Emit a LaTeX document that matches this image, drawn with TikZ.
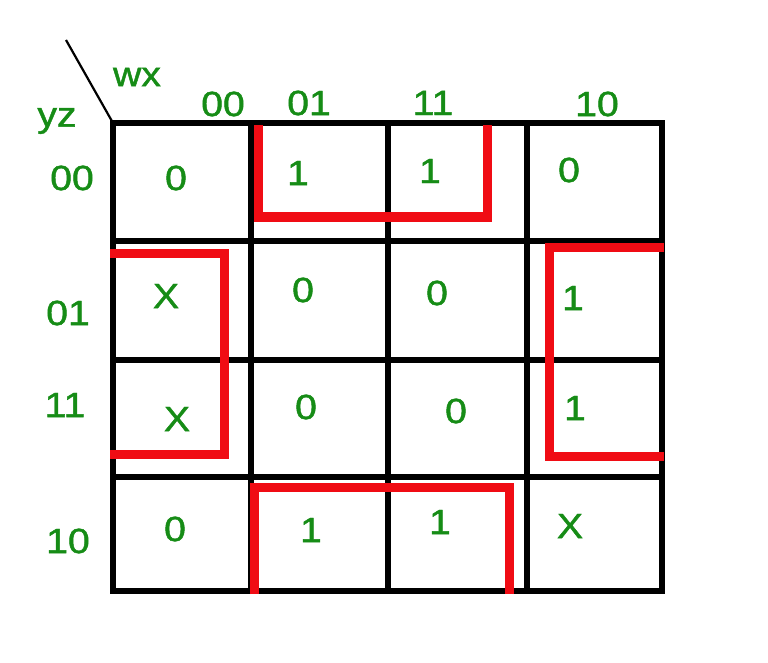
\documentclass[tikz,border=0pt]{standalone}
\usepackage{fontspec}
\setmainfont{Liberation Sans}
\newfontfamily\kmapfont[FakeBold=1.2]{Liberation Sans}
\definecolor{kgreen}{RGB}{22,140,22}
\definecolor{kred}{RGB}{240,12,20}
\begin{document}
\begin{tikzpicture}[x=1pt,y=-1pt,
  lbl/.style={text=kgreen,font=\kmapfont\fontsize{35}{35}\selectfont,inner sep=0pt,xscale=1.12},
  gridline/.style={line width=5.5pt,black,line cap=rect},
  grp/.style={line width=9pt,kred,line join=miter}]
\useasboundingbox (0,0) rectangle (768,663);
% grid
\foreach \x in {113,251,388,527,662} \draw[gridline] (\x,123) -- (\x,591);
\foreach \y in {123,241,360,477,591} \draw[gridline] (113,\y) -- (662,\y);
% diagonal
\coordinate (corner) at (113,123);
\coordinate (dtop) at (66,40);
\draw[line width=2.2pt] (dtop) -- (corner);
% red groups
\draw[grp] (258,125) -- (258,217) -- (487,217) -- (487,125);
\draw[grp] (110,253) -- (224,253) -- (224,454) -- (110,454);
\draw[grp] (664,247) -- (549,247) -- (549,456) -- (664,456);
\draw[grp] (254,594) -- (254,487) -- (509,487) -- (509,594);
% axis labels
\node[lbl] (wx) at (137,77) {wx};
\node[lbl] (yz) at (57,121) {yz};
\node[lbl] (c00) at (223,104) {00};
\node[lbl] (c01) at (309,103) {01};
\node[lbl] (c11) at (433,103) {11};
\node[lbl] (c10) at (597,104) {10};
\node[lbl] (r00) at (72,178) {00};
\node[lbl] (r01) at (68,313) {01};
\node[lbl] (r11) at (65,405) {11};
\node[lbl] (r10) at (68,541) {10};
% cells
\node[lbl] (m0) at (176,178) {0};
\node[lbl] (m4) at (298,173) {1};
\node[lbl] (m12) at (430,171) {1};
\node[lbl] (m8) at (569,170) {0};
\node[lbl] (m1) at (166,296) {X};
\node[lbl] (m5) at (303,290) {0};
\node[lbl] (m13) at (437,293) {0};
\node[lbl] (m9) at (573,298) {1};
\node[lbl] (m3) at (177,419) {X};
\node[lbl] (m7) at (306,407) {0};
\node[lbl] (m15) at (456,411) {0};
\node[lbl] (m11) at (575,408) {1};
\node[lbl] (m2) at (175,529) {0};
\node[lbl] (m6) at (311,530) {1};
\node[lbl] (m14) at (440,522) {1};
\node[lbl] (m10) at (570,526) {X};
\end{tikzpicture}
\end{document}
